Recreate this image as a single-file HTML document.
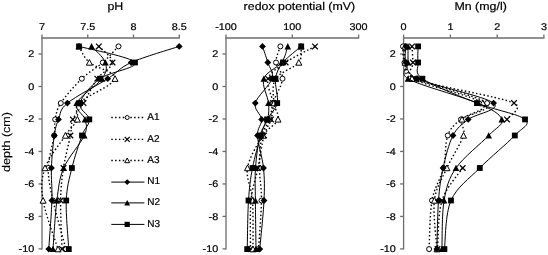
<!DOCTYPE html>
<html lang="en"><head><meta charset="utf-8"><title>Depth profiles</title>
<style>html,body{margin:0;padding:0;background:#fff}body{width:548px;height:255px;overflow:hidden}svg{display:block}text{stroke:#000;stroke-width:.22px}</style></head>
<body>
<svg width="548" height="255" viewBox="0 0 548 255" font-family="'Liberation Sans', Arial, Helvetica, sans-serif" fill="#000" text-rendering="geometricPrecision">
<rect width="548" height="255" fill="#fff"/>
<g stroke="#6c6c6c" stroke-width="1.3" fill="none"><path d="M41.4 38H179.9"/><path d="M42 34.55V249.4"/><path d="M87.75 34.55V37.75"/><path d="M133.5 34.55V37.75"/><path d="M179.3 34.55V37.75"/><path d="M38.5 53.99H42"/><path d="M38.5 86.48H42"/><path d="M38.5 118.96H42"/><path d="M38.5 151.45H42"/><path d="M38.5 183.94H42"/><path d="M38.5 216.42H42"/><path d="M38.5 248.91H42"/></g>
<g font-size="10.5" text-anchor="middle"><text transform="translate(42 29.5) scale(1.03 .93)">7</text><text transform="translate(87.75 29.5) scale(1.03 .93)">7.5</text><text transform="translate(133.5 29.5) scale(1.03 .93)">8</text><text transform="translate(179.3 29.5) scale(1.03 .93)">8.5</text></g><g font-size="10.5" text-anchor="end"><text transform="translate(34.2 57.49) scale(1.03 .93)">2</text><text transform="translate(34.2 89.98) scale(1.03 .93)">0</text><text transform="translate(34.2 122.46) scale(1.03 .93)">-2</text><text transform="translate(34.2 154.95) scale(1.03 .93)">-4</text><text transform="translate(34.2 187.44) scale(1.03 .93)">-6</text><text transform="translate(34.2 219.92) scale(1.03 .93)">-8</text><text transform="translate(34.2 252.41) scale(1.03 .93)">-10</text></g><text transform="translate(115.4 10.4) scale(1 .9)" font-size="12.4" text-anchor="middle">pH</text>
<path d="M118.5 46.35C115.88 49.04 108.87 57.11 102.75 62.5C96.63 67.89 88.79 71.93 81.8 78.7C74.81 85.47 65.23 96.32 60.8 103.1C56.37 109.88 56.3 114 55.2 119.4C54.1 124.8 55.35 127.4 54.2 135.5C53.05 143.6 48.5 157.17 48.3 168C48.1 178.83 50.05 186.98 53 200.5C55.95 214.02 63.83 241 66 249.1" fill="none" stroke="#000" stroke-dasharray="1.5 2.3" stroke-width="1.4"/>
<circle cx="118.5" cy="46.4" r="2.5" fill="#fff" stroke="#000" stroke-width="1"/><circle cx="102.8" cy="62.5" r="2.5" fill="#fff" stroke="#000" stroke-width="1"/><circle cx="81.8" cy="78.7" r="2.5" fill="#fff" stroke="#000" stroke-width="1"/><circle cx="60.8" cy="103.1" r="2.5" fill="#fff" stroke="#000" stroke-width="1"/><circle cx="55.2" cy="119.4" r="2.5" fill="#fff" stroke="#000" stroke-width="1"/><circle cx="54.2" cy="135.5" r="2.5" fill="#fff" stroke="#000" stroke-width="1"/><circle cx="48.3" cy="168" r="2.5" fill="#fff" stroke="#000" stroke-width="1"/><circle cx="53" cy="200.5" r="2.5" fill="#fff" stroke="#000" stroke-width="1"/><circle cx="66" cy="249.1" r="2.5" fill="#fff" stroke="#000" stroke-width="1"/>
<path d="M98.75 46.35C101.04 49.04 112.74 57.11 112.5 62.5C112.26 67.89 102.13 71.93 97.3 78.7C92.47 85.47 87.58 96.32 83.5 103.1C79.42 109.88 74.98 114 72.8 119.4C70.62 124.8 71.95 127.4 70.4 135.5C68.85 143.6 65.13 157.17 63.5 168C61.87 178.83 60.85 186.98 60.6 200.5C60.35 214.02 61.77 241 62 249.1" fill="none" stroke="#000" stroke-dasharray="1.5 2.3" stroke-width="1.4"/>
<path d="M96 43.6l5.6 5.6M96 49.2l5.6 -5.6" stroke="#000" stroke-width="1.25" fill="none"/><path d="M109.7 59.7l5.6 5.6M109.7 65.3l5.6 -5.6" stroke="#000" stroke-width="1.25" fill="none"/><path d="M94.5 75.9l5.6 5.6M94.5 81.5l5.6 -5.6" stroke="#000" stroke-width="1.25" fill="none"/><path d="M80.7 100.3l5.6 5.6M80.7 105.9l5.6 -5.6" stroke="#000" stroke-width="1.25" fill="none"/><path d="M70 116.6l5.6 5.6M70 122.2l5.6 -5.6" stroke="#000" stroke-width="1.25" fill="none"/><path d="M67.6 132.7l5.6 5.6M67.6 138.3l5.6 -5.6" stroke="#000" stroke-width="1.25" fill="none"/><path d="M60.7 165.2l5.6 5.6M60.7 170.8l5.6 -5.6" stroke="#000" stroke-width="1.25" fill="none"/><path d="M57.8 197.7l5.6 5.6M57.8 203.3l5.6 -5.6" stroke="#000" stroke-width="1.25" fill="none"/><path d="M59.2 246.3l5.6 5.6M59.2 251.9l5.6 -5.6" stroke="#000" stroke-width="1.25" fill="none"/>
<path d="M79 46.35C80.73 49.04 83.4 57.11 89.4 62.5C95.4 67.89 116.73 71.93 115 78.7C113.27 85.47 85.27 96.32 79 103.1C72.73 109.88 79.67 114 77.4 119.4C75.13 124.8 70.8 127.4 65.4 135.5C60 143.6 48.72 157.17 45 168C41.28 178.83 40.93 186.98 43.1 200.5C45.27 214.02 55.52 241 58 249.1" fill="none" stroke="#000" stroke-dasharray="1.5 2.3" stroke-width="1.4"/>
<path d="M79 43.4L82 49.1L76 49.1Z" fill="#fff" stroke="#000" stroke-width="1"/><path d="M89.4 59.5L92.4 65.2L86.4 65.2Z" fill="#fff" stroke="#000" stroke-width="1"/><path d="M115 75.7L118 81.4L112 81.4Z" fill="#fff" stroke="#000" stroke-width="1"/><path d="M79 100.1L82 105.8L76 105.8Z" fill="#fff" stroke="#000" stroke-width="1"/><path d="M77.4 116.4L80.4 122.1L74.4 122.1Z" fill="#fff" stroke="#000" stroke-width="1"/><path d="M65.4 132.5L68.4 138.2L62.4 138.2Z" fill="#fff" stroke="#000" stroke-width="1"/><path d="M45 165L48 170.7L42 170.7Z" fill="#fff" stroke="#000" stroke-width="1"/><path d="M43.1 197.5L46.1 203.2L40.1 203.2Z" fill="#fff" stroke="#000" stroke-width="1"/><path d="M58 246.1L61 251.8L55 251.8Z" fill="#fff" stroke="#000" stroke-width="1"/>
<path d="M179.2 46.35C171.2 49.04 143.12 57.11 131.2 62.5C119.28 67.89 118.33 71.93 107.7 78.7C97.07 85.47 75.6 96.32 67.4 103.1C59.2 109.88 60.68 114 58.5 119.4C56.32 124.8 55.48 127.4 54.3 135.5C53.12 143.6 51.8 157.17 51.4 168C51 178.83 52.34 186.98 51.9 200.5C51.46 214.02 49.27 241 48.75 249.1" fill="none" stroke="#000" stroke-width="1"/>
<path d="M179.2 43L182.6 46.4L179.2 49.8L175.8 46.4Z" fill="#000"/><path d="M131.2 59.1L134.6 62.5L131.2 65.9L127.8 62.5Z" fill="#000"/><path d="M107.7 75.3L111.1 78.7L107.7 82.1L104.3 78.7Z" fill="#000"/><path d="M67.4 99.7L70.8 103.1L67.4 106.5L64 103.1Z" fill="#000"/><path d="M58.5 116L61.9 119.4L58.5 122.8L55.1 119.4Z" fill="#000"/><path d="M54.3 132.1L57.7 135.5L54.3 138.9L50.9 135.5Z" fill="#000"/><path d="M51.4 164.6L54.8 168L51.4 171.4L48 168Z" fill="#000"/><path d="M51.9 197.1L55.3 200.5L51.9 203.9L48.5 200.5Z" fill="#000"/><path d="M48.8 245.7L52.2 249.1L48.8 252.5L45.4 249.1Z" fill="#000"/>
<path d="M91.6 46.35C93.9 49.04 103.67 57.11 105.4 62.5C107.13 67.89 106.78 71.93 102 78.7C97.22 85.47 79.53 96.32 76.7 103.1C73.87 109.88 83.73 114 85 119.4C86.27 124.8 87.85 127.4 84.3 135.5C80.75 143.6 68.27 157.17 63.7 168C59.13 178.83 58.68 186.98 56.9 200.5C55.12 214.02 53.65 241 53 249.1" fill="none" stroke="#000" stroke-width="1"/>
<path d="M91.6 43.1L94.9 49.4L88.3 49.4Z" fill="#000"/><path d="M105.4 59.2L108.7 65.5L102.1 65.5Z" fill="#000"/><path d="M102 75.4L105.3 81.7L98.7 81.7Z" fill="#000"/><path d="M76.7 99.8L80 106.1L73.4 106.1Z" fill="#000"/><path d="M85 116.1L88.3 122.4L81.7 122.4Z" fill="#000"/><path d="M84.3 132.2L87.6 138.5L81 138.5Z" fill="#000"/><path d="M63.7 164.7L67 171L60.4 171Z" fill="#000"/><path d="M56.9 197.2L60.2 203.5L53.6 203.5Z" fill="#000"/><path d="M53 245.8L56.3 252.1L49.7 252.1Z" fill="#000"/>
<path d="M79 46.35C88.33 49.04 131.5 57.11 135 62.5C138.5 67.89 109.17 71.93 100 78.7C90.83 85.47 81.78 96.32 80 103.1C78.22 109.88 88.97 114 89.3 119.4C89.63 124.8 84.9 127.4 82 135.5C79.1 143.6 74.53 157.17 71.9 168C69.28 178.83 66.78 186.98 66.25 200.5C65.72 214.02 68.33 241 68.75 249.1" fill="none" stroke="#000" stroke-width="1"/>
<rect x="76.1" y="43.5" width="5.8" height="5.8" fill="#000"/><rect x="132.1" y="59.6" width="5.8" height="5.8" fill="#000"/><rect x="97.1" y="75.8" width="5.8" height="5.8" fill="#000"/><rect x="77.1" y="100.2" width="5.8" height="5.8" fill="#000"/><rect x="86.4" y="116.5" width="5.8" height="5.8" fill="#000"/><rect x="79.1" y="132.6" width="5.8" height="5.8" fill="#000"/><rect x="69" y="165.1" width="5.8" height="5.8" fill="#000"/><rect x="63.3" y="197.6" width="5.8" height="5.8" fill="#000"/><rect x="65.9" y="246.2" width="5.8" height="5.8" fill="#000"/>
<g stroke="#6c6c6c" stroke-width="1.3" fill="none"><path d="M225.4 38H359.2"/><path d="M226 34.55V249.4"/><path d="M292.3 34.55V37.75"/><path d="M358.6 34.55V37.75"/><path d="M222.5 53.99H226"/><path d="M222.5 86.48H226"/><path d="M222.5 118.96H226"/><path d="M222.5 151.45H226"/><path d="M222.5 183.94H226"/><path d="M222.5 216.42H226"/><path d="M222.5 248.91H226"/></g>
<g font-size="10.5" text-anchor="middle"><text transform="translate(226 29.5) scale(1.03 .93)">-100</text><text transform="translate(292.3 29.5) scale(1.03 .93)">100</text><text transform="translate(358.6 29.5) scale(1.03 .93)">300</text></g><g font-size="10.5" text-anchor="end"><text transform="translate(218.2 57.49) scale(1.03 .93)">2</text><text transform="translate(218.2 89.98) scale(1.03 .93)">0</text><text transform="translate(218.2 122.46) scale(1.03 .93)">-2</text><text transform="translate(218.2 154.95) scale(1.03 .93)">-4</text><text transform="translate(218.2 187.44) scale(1.03 .93)">-6</text><text transform="translate(218.2 219.92) scale(1.03 .93)">-8</text><text transform="translate(218.2 252.41) scale(1.03 .93)">-10</text></g><text transform="translate(299.4 10.4) scale(1 .9)" font-size="12.4" text-anchor="middle">redox potential (mV)</text>
<path d="M280.4 46.35C279.67 49.04 275.65 57.11 276 62.5C276.35 67.89 283 71.93 282.5 78.7C282 85.47 275.08 96.32 273 103.1C270.92 109.88 271.83 114 270 119.4C268.17 124.8 263.75 127.4 262 135.5C260.25 143.6 259.58 157.17 259.5 168C259.42 178.83 261.67 186.98 261.5 200.5C261.33 214.02 259 241 258.5 249.1" fill="none" stroke="#000" stroke-dasharray="1.5 2.3" stroke-width="1.4"/>
<circle cx="280.4" cy="46.4" r="2.5" fill="#fff" stroke="#000" stroke-width="1"/><circle cx="276" cy="62.5" r="2.5" fill="#fff" stroke="#000" stroke-width="1"/><circle cx="282.5" cy="78.7" r="2.5" fill="#fff" stroke="#000" stroke-width="1"/><circle cx="273" cy="103.1" r="2.5" fill="#fff" stroke="#000" stroke-width="1"/><circle cx="270" cy="119.4" r="2.5" fill="#fff" stroke="#000" stroke-width="1"/><circle cx="262" cy="135.5" r="2.5" fill="#fff" stroke="#000" stroke-width="1"/><circle cx="259.5" cy="168" r="2.5" fill="#fff" stroke="#000" stroke-width="1"/><circle cx="261.5" cy="200.5" r="2.5" fill="#fff" stroke="#000" stroke-width="1"/><circle cx="258.5" cy="249.1" r="2.5" fill="#fff" stroke="#000" stroke-width="1"/>
<path d="M315 46.35C310.1 49.04 293.43 57.11 285.6 62.5C277.77 67.89 270.1 71.93 268 78.7C265.9 85.47 272.5 96.32 273 103.1C273.5 109.88 272.5 114 271 119.4C269.5 124.8 266.17 127.4 264 135.5C261.83 143.6 260.17 157.17 258 168C255.83 178.83 252.25 186.98 251 200.5C249.75 214.02 250.58 241 250.5 249.1" fill="none" stroke="#000" stroke-dasharray="1.5 2.3" stroke-width="1.4"/>
<path d="M312.2 43.6l5.6 5.6M312.2 49.2l5.6 -5.6" stroke="#000" stroke-width="1.25" fill="none"/><path d="M282.8 59.7l5.6 5.6M282.8 65.3l5.6 -5.6" stroke="#000" stroke-width="1.25" fill="none"/><path d="M265.2 75.9l5.6 5.6M265.2 81.5l5.6 -5.6" stroke="#000" stroke-width="1.25" fill="none"/><path d="M270.2 100.3l5.6 5.6M270.2 105.9l5.6 -5.6" stroke="#000" stroke-width="1.25" fill="none"/><path d="M268.2 116.6l5.6 5.6M268.2 122.2l5.6 -5.6" stroke="#000" stroke-width="1.25" fill="none"/><path d="M261.2 132.7l5.6 5.6M261.2 138.3l5.6 -5.6" stroke="#000" stroke-width="1.25" fill="none"/><path d="M255.2 165.2l5.6 5.6M255.2 170.8l5.6 -5.6" stroke="#000" stroke-width="1.25" fill="none"/><path d="M248.2 197.7l5.6 5.6M248.2 203.3l5.6 -5.6" stroke="#000" stroke-width="1.25" fill="none"/><path d="M247.7 246.3l5.6 5.6M247.7 251.9l5.6 -5.6" stroke="#000" stroke-width="1.25" fill="none"/>
<path d="M301 46.35C300.62 49.04 302.98 57.11 298.75 62.5C294.52 67.89 279.73 71.93 275.6 78.7C271.48 85.47 273.6 96.32 274 103.1C274.4 109.88 279.83 114 278 119.4C276.17 124.8 268.08 127.4 263 135.5C257.92 143.6 249.25 157.17 247.5 168C245.75 178.83 251.58 186.98 252.5 200.5C253.42 214.02 252.92 241 253 249.1" fill="none" stroke="#000" stroke-dasharray="1.5 2.3" stroke-width="1.4"/>
<path d="M301 43.4L304 49.1L298 49.1Z" fill="#fff" stroke="#000" stroke-width="1"/><path d="M298.8 59.5L301.8 65.2L295.8 65.2Z" fill="#fff" stroke="#000" stroke-width="1"/><path d="M275.6 75.7L278.6 81.4L272.6 81.4Z" fill="#fff" stroke="#000" stroke-width="1"/><path d="M274 100.1L277 105.8L271 105.8Z" fill="#fff" stroke="#000" stroke-width="1"/><path d="M278 116.4L281 122.1L275 122.1Z" fill="#fff" stroke="#000" stroke-width="1"/><path d="M263 132.5L266 138.2L260 138.2Z" fill="#fff" stroke="#000" stroke-width="1"/><path d="M247.5 165L250.5 170.7L244.5 170.7Z" fill="#fff" stroke="#000" stroke-width="1"/><path d="M252.5 197.5L255.5 203.2L249.5 203.2Z" fill="#fff" stroke="#000" stroke-width="1"/><path d="M253 246.1L256 251.8L250 251.8Z" fill="#fff" stroke="#000" stroke-width="1"/>
<path d="M262.5 46.35C263.38 49.04 266.22 57.11 267.8 62.5C269.38 67.89 274.08 71.93 272 78.7C269.92 85.47 257.03 96.32 255.3 103.1C253.57 109.88 261.23 114 261.6 119.4C261.97 124.8 257.18 127.4 257.5 135.5C257.82 143.6 262.42 157.17 263.5 168C264.58 178.83 264.62 186.98 264 200.5C263.38 214.02 260.46 241 259.75 249.1" fill="none" stroke="#000" stroke-width="1"/>
<path d="M262.5 43L265.9 46.4L262.5 49.8L259.1 46.4Z" fill="#000"/><path d="M267.8 59.1L271.2 62.5L267.8 65.9L264.4 62.5Z" fill="#000"/><path d="M272 75.3L275.4 78.7L272 82.1L268.6 78.7Z" fill="#000"/><path d="M255.3 99.7L258.7 103.1L255.3 106.5L251.9 103.1Z" fill="#000"/><path d="M261.6 116L265 119.4L261.6 122.8L258.2 119.4Z" fill="#000"/><path d="M257.5 132.1L260.9 135.5L257.5 138.9L254.1 135.5Z" fill="#000"/><path d="M263.5 164.6L266.9 168L263.5 171.4L260.1 168Z" fill="#000"/><path d="M264 197.1L267.4 200.5L264 203.9L260.6 200.5Z" fill="#000"/><path d="M259.8 245.7L263.2 249.1L259.8 252.5L256.4 249.1Z" fill="#000"/>
<path d="M287.75 46.35C286.71 49.04 285.5 57.11 281.5 62.5C277.5 67.89 265.92 71.93 263.75 78.7C261.58 85.47 267.88 96.32 268.5 103.1C269.12 109.88 268.92 114 267.5 119.4C266.08 124.8 262 127.4 260 135.5C258 143.6 256.27 157.17 255.5 168C254.73 178.83 255.32 186.98 255.4 200.5C255.48 214.02 255.9 241 256 249.1" fill="none" stroke="#000" stroke-width="1"/>
<path d="M287.8 43.1L291.1 49.4L284.5 49.4Z" fill="#000"/><path d="M281.5 59.2L284.8 65.5L278.2 65.5Z" fill="#000"/><path d="M263.8 75.4L267.1 81.7L260.5 81.7Z" fill="#000"/><path d="M268.5 99.8L271.8 106.1L265.2 106.1Z" fill="#000"/><path d="M267.5 116.1L270.8 122.4L264.2 122.4Z" fill="#000"/><path d="M260 132.2L263.3 138.5L256.7 138.5Z" fill="#000"/><path d="M255.5 164.7L258.8 171L252.2 171Z" fill="#000"/><path d="M255.4 197.2L258.7 203.5L252.1 203.5Z" fill="#000"/><path d="M256 245.8L259.3 252.1L252.7 252.1Z" fill="#000"/>
<path d="M301.25 46.35C298.21 49.04 287.29 57.11 283 62.5C278.71 67.89 276.46 71.93 275.5 78.7C274.54 85.47 278.67 96.32 277.25 103.1C275.83 109.88 269.71 114 267 119.4C264.29 124.8 263.42 127.4 261 135.5C258.58 143.6 254.58 157.17 252.5 168C250.42 178.83 249.38 186.98 248.5 200.5C247.62 214.02 247.46 241 247.25 249.1" fill="none" stroke="#000" stroke-width="1"/>
<rect x="298.3" y="43.5" width="5.8" height="5.8" fill="#000"/><rect x="280.1" y="59.6" width="5.8" height="5.8" fill="#000"/><rect x="272.6" y="75.8" width="5.8" height="5.8" fill="#000"/><rect x="274.3" y="100.2" width="5.8" height="5.8" fill="#000"/><rect x="264.1" y="116.5" width="5.8" height="5.8" fill="#000"/><rect x="258.1" y="132.6" width="5.8" height="5.8" fill="#000"/><rect x="249.6" y="165.1" width="5.8" height="5.8" fill="#000"/><rect x="245.6" y="197.6" width="5.8" height="5.8" fill="#000"/><rect x="244.3" y="246.2" width="5.8" height="5.8" fill="#000"/>
<g stroke="#6c6c6c" stroke-width="1.3" fill="none"><path d="M403 38H544.5"/><path d="M403.6 34.55V249.4"/><path d="M450.4 34.55V37.75"/><path d="M497.2 34.55V37.75"/><path d="M543.9 34.55V37.75"/><path d="M400.1 53.99H403.6"/><path d="M400.1 86.48H403.6"/><path d="M400.1 118.96H403.6"/><path d="M400.1 151.45H403.6"/><path d="M400.1 183.94H403.6"/><path d="M400.1 216.42H403.6"/><path d="M400.1 248.91H403.6"/></g>
<g font-size="10.5" text-anchor="middle"><text transform="translate(403.6 29.5) scale(1.03 .93)">0</text><text transform="translate(450.4 29.5) scale(1.03 .93)">1</text><text transform="translate(497.2 29.5) scale(1.03 .93)">2</text><text transform="translate(543.9 29.5) scale(1.03 .93)">3</text></g><g font-size="10.5" text-anchor="end"><text transform="translate(395.8 57.49) scale(1.03 .93)">2</text><text transform="translate(395.8 89.98) scale(1.03 .93)">0</text><text transform="translate(395.8 122.46) scale(1.03 .93)">-2</text><text transform="translate(395.8 154.95) scale(1.03 .93)">-4</text><text transform="translate(395.8 187.44) scale(1.03 .93)">-6</text><text transform="translate(395.8 219.92) scale(1.03 .93)">-8</text><text transform="translate(395.8 252.41) scale(1.03 .93)">-10</text></g><text transform="translate(480.6 10.4) scale(1 .9)" font-size="12.4" text-anchor="middle">Mn (mg/l)</text>
<path d="M403 46.35C403.25 49.04 402.33 57.11 404.5 62.5C406.67 67.89 404.41 73 416 78.7C429.77 85.47 479.6 96.32 487.1 103.1C494.6 109.88 467.56 114 461 119.4C454.44 124.8 450.67 127.4 447.75 135.5C444.83 143.6 446.12 157.17 443.5 168C440.88 178.83 434.4 186.98 432 200.5C429.6 214.02 429.58 241 429.1 249.1" fill="none" stroke="#000" stroke-dasharray="1.5 2.3" stroke-width="1.4"/>
<circle cx="403" cy="46.4" r="2.5" fill="#fff" stroke="#000" stroke-width="1"/><circle cx="404.5" cy="62.5" r="2.5" fill="#fff" stroke="#000" stroke-width="1"/><circle cx="416" cy="78.7" r="2.5" fill="#fff" stroke="#000" stroke-width="1"/><circle cx="487.1" cy="103.1" r="2.5" fill="#fff" stroke="#000" stroke-width="1"/><circle cx="461" cy="119.4" r="2.5" fill="#fff" stroke="#000" stroke-width="1"/><circle cx="447.8" cy="135.5" r="2.5" fill="#fff" stroke="#000" stroke-width="1"/><circle cx="443.5" cy="168" r="2.5" fill="#fff" stroke="#000" stroke-width="1"/><circle cx="432" cy="200.5" r="2.5" fill="#fff" stroke="#000" stroke-width="1"/><circle cx="429.1" cy="249.1" r="2.5" fill="#fff" stroke="#000" stroke-width="1"/>
<path d="M412 46.35C412.17 49.04 412.67 57.11 413 62.5C413.33 67.89 404.21 74.77 414 78.7C430.83 85.47 498.5 96.32 514 103.1C524.56 107.72 508.17 116.68 507 119.4M462.7 168C459.25 173.42 446.2 186.98 442 200.5C437.8 214.02 438.25 241 437.5 249.1" fill="none" stroke="#000" stroke-dasharray="1.5 2.3" stroke-width="1.4"/>
<path d="M409.2 43.6l5.6 5.6M409.2 49.2l5.6 -5.6" stroke="#000" stroke-width="1.25" fill="none"/><path d="M410.2 59.7l5.6 5.6M410.2 65.3l5.6 -5.6" stroke="#000" stroke-width="1.25" fill="none"/><path d="M411.2 75.9l5.6 5.6M411.2 81.5l5.6 -5.6" stroke="#000" stroke-width="1.25" fill="none"/><path d="M511.2 100.3l5.6 5.6M511.2 105.9l5.6 -5.6" stroke="#000" stroke-width="1.25" fill="none"/><path d="M504.2 116.6l5.6 5.6M504.2 122.2l5.6 -5.6" stroke="#000" stroke-width="1.25" fill="none"/><path d="M459.9 165.2l5.6 5.6M459.9 170.8l5.6 -5.6" stroke="#000" stroke-width="1.25" fill="none"/><path d="M439.2 197.7l5.6 5.6M439.2 203.3l5.6 -5.6" stroke="#000" stroke-width="1.25" fill="none"/><path d="M434.7 246.3l5.6 5.6M434.7 251.9l5.6 -5.6" stroke="#000" stroke-width="1.25" fill="none"/>
<path d="M405 46.35C405 49.04 403.83 57.11 405 62.5C406.17 67.89 401.83 73.39 412 78.7C424.96 85.47 474.42 96.32 482.75 103.1C491.08 109.88 465.21 114 462 119.4C458.79 124.8 466.02 127.4 463.5 135.5C460.98 143.6 451.75 157.17 446.9 168C442.05 178.83 436.05 186.98 434.4 200.5C432.75 214.02 436.57 241 437 249.1" fill="none" stroke="#000" stroke-dasharray="1.5 2.3" stroke-width="1.4"/>
<path d="M405 43.4L408 49.1L402 49.1Z" fill="#fff" stroke="#000" stroke-width="1"/><path d="M405 59.5L408 65.2L402 65.2Z" fill="#fff" stroke="#000" stroke-width="1"/><path d="M412 75.7L415 81.4L409 81.4Z" fill="#fff" stroke="#000" stroke-width="1"/><path d="M482.8 100.1L485.8 105.8L479.8 105.8Z" fill="#fff" stroke="#000" stroke-width="1"/><path d="M462 116.4L465 122.1L459 122.1Z" fill="#fff" stroke="#000" stroke-width="1"/><path d="M463.5 132.5L466.5 138.2L460.5 138.2Z" fill="#fff" stroke="#000" stroke-width="1"/><path d="M446.9 165L449.9 170.7L443.9 170.7Z" fill="#fff" stroke="#000" stroke-width="1"/><path d="M434.4 197.5L437.4 203.2L431.4 203.2Z" fill="#fff" stroke="#000" stroke-width="1"/><path d="M437 246.1L440 251.8L434 251.8Z" fill="#fff" stroke="#000" stroke-width="1"/>
<path d="M406 46.35C406 49.04 404.08 57.11 406 62.5C407.92 67.89 405.78 73.27 417.5 78.7C432.1 85.47 485.15 96.32 493.6 103.1C502.05 109.88 474.97 114 468.2 119.4C461.43 124.8 457.18 127.4 453 135.5C448.82 143.6 445.52 157.17 443.1 168C440.68 178.83 439.53 186.98 438.5 200.5C437.47 214.02 437.17 241 436.9 249.1" fill="none" stroke="#000" stroke-width="1"/>
<path d="M406 43L409.4 46.4L406 49.8L402.6 46.4Z" fill="#000"/><path d="M406 59.1L409.4 62.5L406 65.9L402.6 62.5Z" fill="#000"/><path d="M417.5 75.3L420.9 78.7L417.5 82.1L414.1 78.7Z" fill="#000"/><path d="M493.6 99.7L497 103.1L493.6 106.5L490.2 103.1Z" fill="#000"/><path d="M468.2 116L471.6 119.4L468.2 122.8L464.8 119.4Z" fill="#000"/><path d="M453 132.1L456.4 135.5L453 138.9L449.6 135.5Z" fill="#000"/><path d="M443.1 164.6L446.5 168L443.1 171.4L439.7 168Z" fill="#000"/><path d="M438.5 197.1L441.9 200.5L438.5 203.9L435.1 200.5Z" fill="#000"/><path d="M436.9 245.7L440.3 249.1L436.9 252.5L433.5 249.1Z" fill="#000"/>
<path d="M408 46.35C408 49.04 408 57.11 408 62.5C408 67.89 398.91 73.39 408 78.7C419.58 85.47 461.87 96.32 477.5 103.1C493.13 109.88 499.93 114 501.8 119.4C503.67 124.8 496.33 127.4 488.7 135.5C481.07 143.6 463.43 157.17 456 168C448.57 178.83 446.45 186.98 444.1 200.5C441.75 214.02 442.27 241 441.9 249.1" fill="none" stroke="#000" stroke-width="1"/>
<path d="M408 43.1L411.3 49.4L404.7 49.4Z" fill="#000"/><path d="M408 59.2L411.3 65.5L404.7 65.5Z" fill="#000"/><path d="M408 75.4L411.3 81.7L404.7 81.7Z" fill="#000"/><path d="M477.5 99.8L480.8 106.1L474.2 106.1Z" fill="#000"/><path d="M501.8 116.1L505.1 122.4L498.5 122.4Z" fill="#000"/><path d="M488.7 132.2L492 138.5L485.4 138.5Z" fill="#000"/><path d="M456 164.7L459.3 171L452.7 171Z" fill="#000"/><path d="M444.1 197.2L447.4 203.5L440.8 203.5Z" fill="#000"/><path d="M441.9 245.8L445.2 252.1L438.6 252.1Z" fill="#000"/>
<path d="M418.1 46.35C418.1 49.04 417.38 57.11 418.1 62.5C418.82 67.89 413.43 72.52 422.4 78.7C432.22 85.47 459.9 96.32 477 103.1C494.1 109.88 518.71 114 525 119.4C531.29 124.8 522.29 127.4 514.75 135.5C507.21 143.6 490.38 157.17 479.75 168C469.12 178.83 456.89 186.98 451 200.5C445.11 214.02 445.5 241 444.4 249.1" fill="none" stroke="#000" stroke-width="1"/>
<rect x="415.2" y="43.5" width="5.8" height="5.8" fill="#000"/><rect x="415.2" y="59.6" width="5.8" height="5.8" fill="#000"/><rect x="419.5" y="75.8" width="5.8" height="5.8" fill="#000"/><rect x="474.1" y="100.2" width="5.8" height="5.8" fill="#000"/><rect x="522.1" y="116.5" width="5.8" height="5.8" fill="#000"/><rect x="511.9" y="132.6" width="5.8" height="5.8" fill="#000"/><rect x="476.9" y="165.1" width="5.8" height="5.8" fill="#000"/><rect x="448.1" y="197.6" width="5.8" height="5.8" fill="#000"/><rect x="441.5" y="246.2" width="5.8" height="5.8" fill="#000"/>
<text transform="translate(10.4 142) rotate(-90) scale(1 .9)" font-size="12.5" text-anchor="middle" style="stroke-width:.1px">depth (cm)</text>
<path d="M111.3 117.5H144.4" fill="none" stroke="#000" stroke-dasharray="1.5 2.3" stroke-width="1.4"/>
<circle cx="127.2" cy="117.5" r="2.0" fill="#fff" stroke="#000" stroke-width="1"/>
<text x="147.3" y="120" font-size="10">A1</text>
<path d="M111.3 139.4H144.4" fill="none" stroke="#000" stroke-dasharray="1.5 2.3" stroke-width="1.4"/>
<path d="M124.7 136.9l5.0 5.0M124.7 141.9l5.0 -5.0" stroke="#000" stroke-width="1.25" fill="none"/>
<text x="147.3" y="141.5" font-size="10">A2</text>
<path d="M111.3 160.5H144.4" fill="none" stroke="#000" stroke-dasharray="1.5 2.3" stroke-width="1.4"/>
<path d="M127.2 158L129.7 162.7L124.7 162.7Z" fill="#fff" stroke="#000" stroke-width="1"/>
<text x="147.3" y="162.8" font-size="10">A3</text>
<path d="M111.3 182.1H144.4" fill="none" stroke="#000" stroke-width="1"/>
<path d="M127.2 179.2L130.1 182.1L127.2 185L124.3 182.1Z" fill="#000"/>
<text x="147.3" y="183.9" font-size="10">N1</text>
<path d="M111.3 202.9H144.4" fill="none" stroke="#000" stroke-width="1"/>
<path d="M127.2 200L130.1 205.5L124.3 205.5Z" fill="#000"/>
<text x="147.3" y="205.1" font-size="10">N2</text>
<path d="M111.3 224.4H144.4" fill="none" stroke="#000" stroke-width="1"/>
<rect x="124.6" y="221.8" width="5.2" height="5.2" fill="#000"/>
<text x="147.3" y="226.5" font-size="10">N3</text>
</svg>
</body></html>
